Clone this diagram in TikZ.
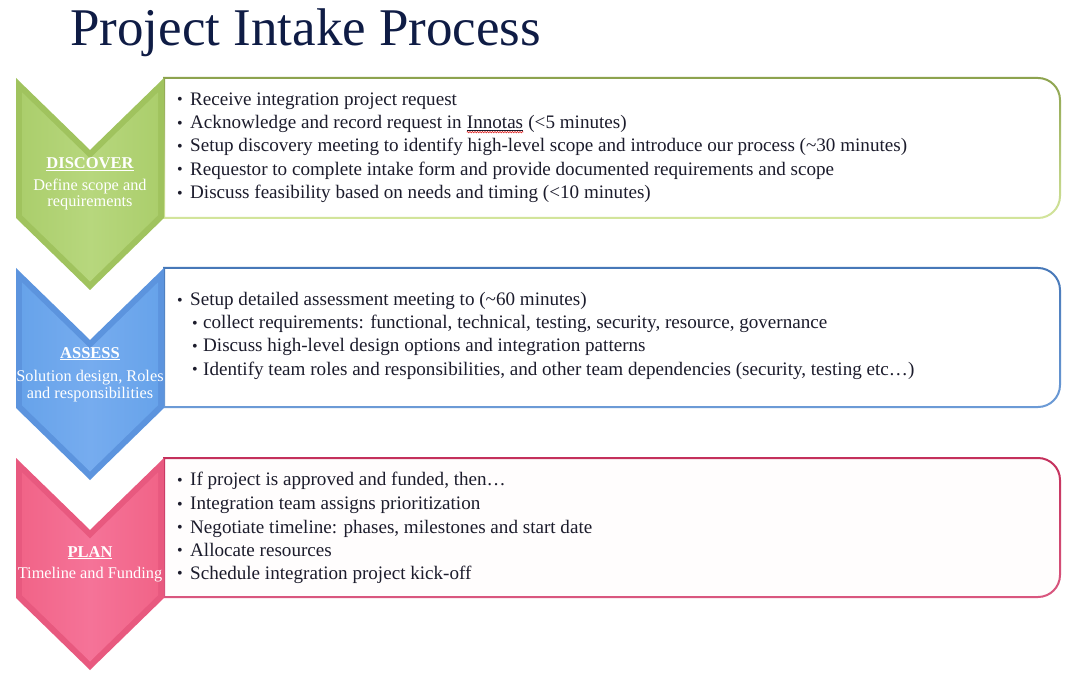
\documentclass[tikz,border=0pt]{standalone}
\usepackage{fontspec}
\setmainfont{Liberation Serif}
\usetikzlibrary{decorations.pathmorphing}
\definecolor{titlec}{HTML}{0F1C45}
\definecolor{txt}{HTML}{1C1C2C}
\definecolor{gA}{HTML}{A0C35E}\definecolor{gB}{HTML}{ABCE6C}\definecolor{gC}{HTML}{B7D77D}
\definecolor{bA}{HTML}{5C94DE}\definecolor{bB}{HTML}{67A3EA}\definecolor{bC}{HTML}{76ACEF}
\definecolor{pA}{HTML}{E8597F}\definecolor{pB}{HTML}{F16488}\definecolor{pC}{HTML}{F57398}
\definecolor{gbT}{HTML}{8DA34E}\definecolor{gbB}{HTML}{D3E59C}
\definecolor{bbT}{HTML}{4778B8}\definecolor{bbB}{HTML}{6C9BD6}
\definecolor{pbT}{HTML}{C4305C}\definecolor{pbB}{HTML}{D9577F}
\newcommand\mychev[4]{% top, outer, edge, centre
  \fill[#2] (16,#1) -- (90,{#1+72}) -- (164,#1) -- (164,{#1+140}) -- (90,{#1+212}) -- (16,{#1+140}) -- cycle;
  \shade[left color=#3, right color=#3, middle color=#4]
    (22,{#1+14.3}) -- (90,{#1+80.5}) -- (158,{#1+14.3}) -- (158,{#1+137.3}) -- (90,{#1+203.5}) -- (22,{#1+137.3}) -- cycle;}
\newcommand\mybox[5]{% top, bottom, fill, border top, border bottom
  \fill[#3] (164,#1) [rounded corners=22pt] -- (1060,#1) -- (1060,#2) [sharp corners] -- (164,#2) -- cycle;
  \shade[top color=#4, bottom color=#5, even odd rule]
    (163,{#1-1}) [rounded corners=23pt] -- (1061,{#1-1}) -- (1061,{#2+1}) [sharp corners] -- (163,{#2+1}) -- cycle
    (165,{#1+1}) [rounded corners=21pt] -- (1059,{#1+1}) -- (1059,{#2-1}) [sharp corners] -- (165,{#2-1}) -- cycle;}
\tikzset{
  line/.style={anchor=base west, inner sep=0pt, text=txt, font=\fontsize{19.1}{21}\selectfont},
  clab/.style={anchor=base, inner sep=0pt, text=white, font=\fontsize{16.3}{18}\selectfont},
  chead/.style={anchor=base, inner sep=0pt, text=white, font=\fontsize{16.5}{18}\selectfont\bfseries},
}
\newcommand\bul{\makebox[13pt][l]{\fontsize{16}{16}\selectfont\raisebox{0.5pt}{•}}}
\newcommand\sbul{\makebox[11pt][l]{\fontsize{16}{16}\selectfont\raisebox{0.5pt}{•}}}
\begin{document}
\begin{tikzpicture}[x=1pt,y=-1pt]
\useasboundingbox (0,0) rectangle (1070,684);
\fill[white] (0,0) rectangle (1070,684);
\node[anchor=base west, inner sep=0pt, text=titlec, font=\fontsize{53}{56}\selectfont] (title) at (70,46) {Project Intake Process};

% boxes
\mybox{78}{218}{white}{gbT}{gbB}
\mybox{268}{407}{white}{bbT}{bbB}
\mybox{458}{597}{pink!3}{pbT}{pbB}

% chevrons
\mychev{78}{gA}{gB}{gC}
\mychev{268}{bA}{bB}{bC}
\mychev{458}{pA}{pB}{pC}

% chevron labels
\node[chead] (disc) at (90,169) {\underline{DISCOVER}};
\node[clab] (disc1) at (90,190.5) {Define scope and};
\node[clab] (disc2) at (90,207) {requirements};
\node[chead] (ass) at (90,358) {\underline{ASSESS}};
\node[clab] (ass1) at (90,381) {Solution design, Roles};
\node[clab] (ass2) at (90,398) {and responsibilities};
\node[chead] (plan) at (90,557) {\underline{PLAN}};
\node[clab] (plan1) at (90,578) {Timeline and Funding};

% discover bullets
\node[line] (d1) at (177,105.5) {\bul Receive integration project request};
\node[line] (d2) at (177,129) {\bul Acknowledge and record request in};
\node[line] (inn) at ([xshift=4.8pt]d2.base east) {\underline{Innotas}};
\node[line] (d2b) at ([xshift=4.8pt]inn.base east) {(<5 minutes)};
\draw[red!85!black, line width=0.5pt, decorate, decoration={snake, amplitude=0.7pt, segment length=2.5pt}]
  ([yshift=-3.2pt]inn.base west) -- ([yshift=-3.2pt]inn.base east);
\node[line] (d3) at (177,152) {\bul Setup discovery meeting to identify high-level scope and introduce our process (\textasciitilde30 minutes)};
\node[line] (d4) at (177,175.5) {\bul Requestor to complete intake form and provide documented requirements and scope};
\node[line] (d5) at (177,199) {\bul Discuss feasibility based on needs and timing (<10 minutes)};

% assess bullets
\node[line] (a1) at (177,305.5) {\bul Setup detailed assessment meeting to (\textasciitilde60 minutes)};
\node[line] (a2) at (192,328.5) {\sbul collect requirements: functional, technical, testing, security, resource, governance};
\node[line] (a3) at (192,352) {\sbul Discuss high-level design options and integration patterns};
\node[line] (a4) at (192,375) {\sbul Identify team roles and responsibilities, and other team dependencies (security, testing etc…)};

% plan bullets
\node[line] (p1) at (177,485.5) {\bul If project is approved and funded, then…};
\node[line] (p2) at (177,509.5) {\bul Integration team assigns prioritization};
\node[line] (p3) at (177,533) {\bul Negotiate timeline: phases, milestones and start date};
\node[line] (p4) at (177,556) {\bul Allocate resources};
\node[line] (p5) at (177,579) {\bul Schedule integration project kick-off};
\end{tikzpicture}
\end{document}
